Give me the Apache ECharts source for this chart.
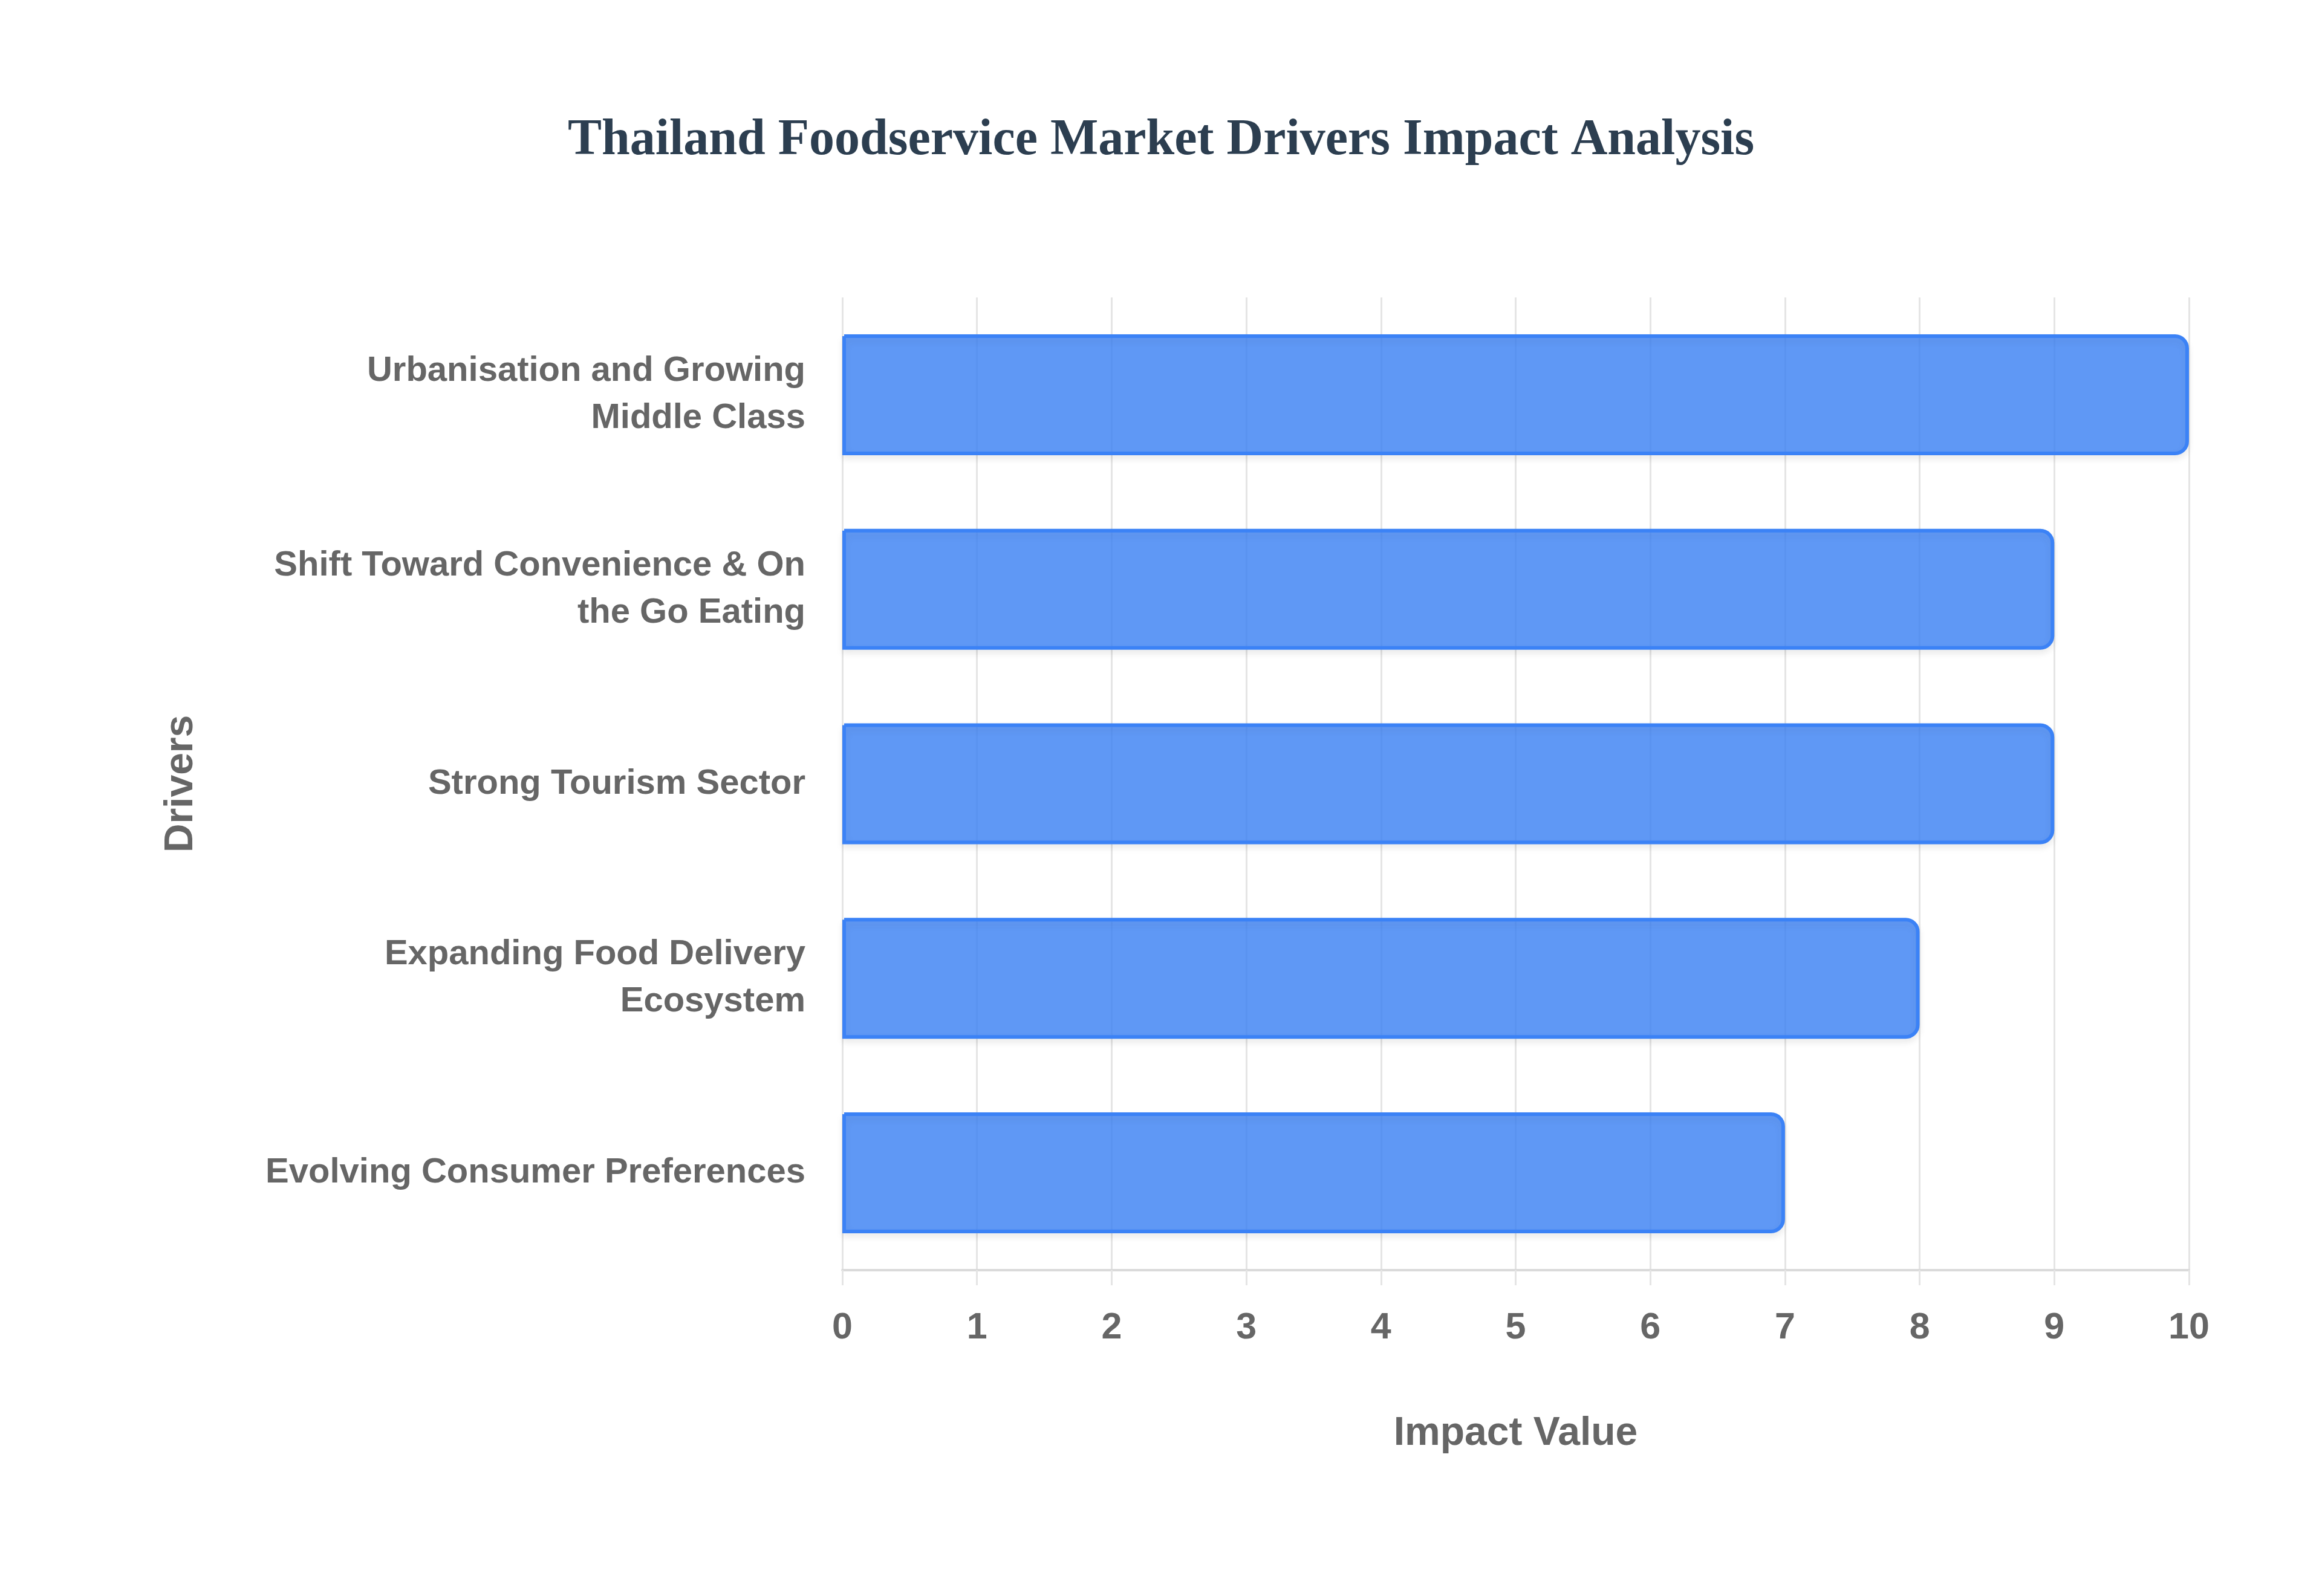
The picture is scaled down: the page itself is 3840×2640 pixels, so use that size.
<!DOCTYPE html>
<html>
<head>
<meta charset="utf-8">
<script src="https://cdn.jsdelivr.net/npm/echarts@6/dist/echarts.min.js"></script>
<style>
html,body{margin:0;padding:0;background:#fff;}
#chart{width:3840px;height:2640px;}
</style>
</head>
<body>
<div id="chart"></div>
<script>
const titleText = 'Thailand Foodservice Market Drivers Impact Analysis';
const categories = [
  'Urbanisation and Growing\nMiddle Class',
  'Shift Toward Convenience & On\nthe Go Eating',
  'Strong Tourism Sector',
  'Expanding Food Delivery\nEcosystem',
  'Evolving Consumer Preferences'
];
const impactValues = [10, 9, 9, 8, 7];
const xTicks = { min: 0, max: 10, interval: 1 };
const xAxisName = 'Impact Value';
const yAxisName = 'Drivers';

const sans = "'Liberation Sans', Arial, Helvetica, sans-serif";
const chart = echarts.init(document.getElementById('chart'), null, { renderer: 'canvas' });
chart.setOption({
  backgroundColor: '#ffffff',
  animation: false,
  title: {
    text: titleText,
    left: 'center',
    top: 186,
    textStyle: {
      fontFamily: "'Liberation Serif', 'Times New Roman', serif",
      fontWeight: 'bold',
      fontSize: 84,
      lineHeight: 84,
      color: '#2c3e50'
    }
  },
  grid: { left: 1393, right: 220, top: 492, bottom: 539, containLabel: false },
  xAxis: {
    type: 'value',
    min: xTicks.min,
    max: xTicks.max,
    interval: xTicks.interval,
    name: xAxisName,
    nameLocation: 'middle',
    nameGap: 238,
    nameTextStyle: { fontFamily: sans, fontWeight: 'bold', fontSize: 66, color: '#666666', verticalAlign: 'top' },
    axisLine: { show: true, lineStyle: { color: '#dadada', width: 4 } },
    axisTick: { show: true, length: 25, lineStyle: { color: '#e5e5e5', width: 3 } },
    splitLine: { show: true, lineStyle: { color: '#e5e5e5', width: 3 } },
    axisLabel: { fontFamily: sans, fontWeight: 'bold', fontSize: 61, color: '#666666', margin: 66 }
  },
  yAxis: {
    type: 'category',
    inverse: true,
    data: categories,
    name: yAxisName,
    nameLocation: 'middle',
    nameGap: 1060,
    nameRotate: 90,
    nameTextStyle: { fontFamily: sans, fontWeight: 'bold', fontSize: 66, color: '#666666' },
    axisLine: { show: false },
    axisTick: { show: false },
    splitLine: { show: false },
    axisLabel: { fontFamily: sans, fontWeight: 'bold', fontSize: 58, lineHeight: 78, color: '#666666', margin: 61, align: 'right' }
  },
  series: [{
    type: 'bar',
    data: impactValues,
    barWidth: 200,
    itemStyle: {
      color: 'rgba(59,130,246,0.8)',
      borderColor: '#3b82f6',
      borderWidth: 6,
      borderRadius: [0, 20, 20, 0],
      shadowColor: 'rgba(0,0,0,0.08)',
      shadowBlur: 12,
      shadowOffsetY: 6
    }
  }]
});
</script>
</body>
</html>
